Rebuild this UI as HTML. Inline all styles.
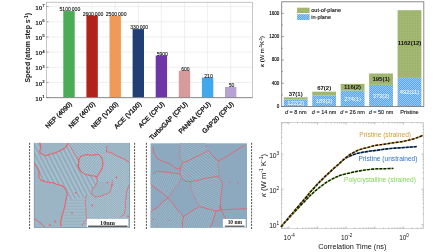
<!DOCTYPE html>
<html><head><meta charset="utf-8"><title>Figure</title>
<style>
html,body{margin:0;padding:0;background:#fff;}
body{width:448px;height:252px;overflow:hidden;}
svg{display:block;font-family:"Liberation Sans",sans-serif;}
.ser{font-family:"Liberation Serif",serif;font-weight:bold;}
</style></head><body>
<svg width="448" height="252" viewBox="0 0 448 252">
<rect width="448" height="252" fill="#fff"/>

<g id="speed">
<line x1="46.5" y1="82.44" x2="252.5" y2="82.44" stroke="#e4e4e4" stroke-width="0.6"/>
<line x1="46.5" y1="67.28" x2="252.5" y2="67.28" stroke="#e4e4e4" stroke-width="0.6"/>
<line x1="46.5" y1="52.12" x2="252.5" y2="52.12" stroke="#e4e4e4" stroke-width="0.6"/>
<line x1="46.5" y1="36.96" x2="252.5" y2="36.96" stroke="#e4e4e4" stroke-width="0.6"/>
<line x1="46.5" y1="21.80" x2="252.5" y2="21.80" stroke="#e4e4e4" stroke-width="0.6"/>
<line x1="46.5" y1="6.64" x2="252.5" y2="6.64" stroke="#e4e4e4" stroke-width="0.6"/>
<line x1="69.00" y1="2.2" x2="69.00" y2="97.7" stroke="#e4e4e4" stroke-width="0.6"/>
<line x1="92.10" y1="2.2" x2="92.10" y2="97.7" stroke="#e4e4e4" stroke-width="0.6"/>
<line x1="115.20" y1="2.2" x2="115.20" y2="97.7" stroke="#e4e4e4" stroke-width="0.6"/>
<line x1="138.30" y1="2.2" x2="138.30" y2="97.7" stroke="#e4e4e4" stroke-width="0.6"/>
<line x1="161.40" y1="2.2" x2="161.40" y2="97.7" stroke="#e4e4e4" stroke-width="0.6"/>
<line x1="184.50" y1="2.2" x2="184.50" y2="97.7" stroke="#e4e4e4" stroke-width="0.6"/>
<line x1="207.60" y1="2.2" x2="207.60" y2="97.7" stroke="#e4e4e4" stroke-width="0.6"/>
<line x1="230.70" y1="2.2" x2="230.70" y2="97.7" stroke="#e4e4e4" stroke-width="0.6"/>
<rect x="63.30" y="11.07" width="11.4" height="86.63" fill="#4aac55"/>
<text x="69.90" y="11.17" font-size="5.1" word-spacing="-0.5" text-anchor="middle" fill="#111" stroke="#111" stroke-width="0.1">5100 000</text>
<rect x="86.40" y="15.51" width="11.4" height="82.19" fill="#b2221b"/>
<text x="93.00" y="15.61" font-size="5.1" word-spacing="-0.5" text-anchor="middle" fill="#111" stroke="#111" stroke-width="0.1">2600 000</text>
<rect x="109.50" y="15.77" width="11.4" height="81.93" fill="#f09a5a"/>
<text x="116.10" y="15.87" font-size="5.1" word-spacing="-0.5" text-anchor="middle" fill="#111" stroke="#111" stroke-width="0.1">2500 000</text>
<rect x="132.60" y="29.10" width="11.4" height="68.60" fill="#1f3f75"/>
<text x="139.20" y="29.20" font-size="5.1" word-spacing="-0.5" text-anchor="middle" fill="#111" stroke="#111" stroke-width="0.1">330 000</text>
<rect x="155.70" y="55.59" width="11.4" height="42.11" fill="#6e35a6"/>
<text x="162.30" y="55.69" font-size="5.1" word-spacing="-0.5" text-anchor="middle" fill="#111" stroke="#111" stroke-width="0.1">5900</text>
<rect x="178.80" y="70.64" width="11.4" height="27.06" fill="#d89a9a"/>
<text x="185.40" y="70.74" font-size="5.1" word-spacing="-0.5" text-anchor="middle" fill="#111" stroke="#111" stroke-width="0.1">600</text>
<rect x="201.90" y="77.56" width="11.4" height="20.14" fill="#42a8ee"/>
<text x="208.50" y="77.66" font-size="5.1" word-spacing="-0.5" text-anchor="middle" fill="#111" stroke="#111" stroke-width="0.1">210</text>
<rect x="225.00" y="87.00" width="11.4" height="10.70" fill="#b7a3d3"/>
<text x="231.60" y="87.10" font-size="5.1" word-spacing="-0.5" text-anchor="middle" fill="#111" stroke="#111" stroke-width="0.1">50</text>
<rect x="46.5" y="2.2" width="206.0" height="95.5" fill="none" stroke="#a0a0a0" stroke-width="0.6"/>
<line x1="46.5" y1="97.7" x2="252.5" y2="97.7" stroke="#777" stroke-width="0.7"/>
<line x1="46.5" y1="97.60" x2="48.5" y2="97.60" stroke="#555" stroke-width="0.5"/>
<text x="44.6" y="100.80" font-size="6.2" font-weight="bold" text-anchor="end" fill="#111">10<tspan font-size="4.4" dy="-2.8">1</tspan></text>
<line x1="46.5" y1="82.44" x2="48.5" y2="82.44" stroke="#555" stroke-width="0.5"/>
<text x="44.6" y="85.64" font-size="6.2" font-weight="bold" text-anchor="end" fill="#111">10<tspan font-size="4.4" dy="-2.8">2</tspan></text>
<line x1="46.5" y1="67.28" x2="48.5" y2="67.28" stroke="#555" stroke-width="0.5"/>
<text x="44.6" y="70.48" font-size="6.2" font-weight="bold" text-anchor="end" fill="#111">10<tspan font-size="4.4" dy="-2.8">3</tspan></text>
<line x1="46.5" y1="52.12" x2="48.5" y2="52.12" stroke="#555" stroke-width="0.5"/>
<text x="44.6" y="55.32" font-size="6.2" font-weight="bold" text-anchor="end" fill="#111">10<tspan font-size="4.4" dy="-2.8">4</tspan></text>
<line x1="46.5" y1="36.96" x2="48.5" y2="36.96" stroke="#555" stroke-width="0.5"/>
<text x="44.6" y="40.16" font-size="6.2" font-weight="bold" text-anchor="end" fill="#111">10<tspan font-size="4.4" dy="-2.8">5</tspan></text>
<line x1="46.5" y1="21.80" x2="48.5" y2="21.80" stroke="#555" stroke-width="0.5"/>
<text x="44.6" y="25.00" font-size="6.2" font-weight="bold" text-anchor="end" fill="#111">10<tspan font-size="4.4" dy="-2.8">6</tspan></text>
<line x1="46.5" y1="6.64" x2="48.5" y2="6.64" stroke="#555" stroke-width="0.5"/>
<text x="44.6" y="9.84" font-size="6.2" font-weight="bold" text-anchor="end" fill="#111">10<tspan font-size="4.4" dy="-2.8">7</tspan></text>
<text transform="translate(30.3,47.8) rotate(-90)" font-size="6.9" font-weight="bold" text-anchor="middle" fill="#111">Speed (atom step s<tspan font-size="4.6" dy="-2.6">-1</tspan><tspan dy="2.6">)</tspan></text>
<text transform="translate(72.40,104.4) rotate(-45)" font-size="6.6" text-anchor="end" fill="#111" stroke="#111" stroke-width="0.3">NEP (4090)</text>
<text transform="translate(95.50,104.4) rotate(-45)" font-size="6.6" text-anchor="end" fill="#111" stroke="#111" stroke-width="0.3">NEP (4070)</text>
<text transform="translate(118.60,104.4) rotate(-45)" font-size="6.6" text-anchor="end" fill="#111" stroke="#111" stroke-width="0.3">NEP (V100)</text>
<text transform="translate(141.70,104.4) rotate(-45)" font-size="6.6" text-anchor="end" fill="#111" stroke="#111" stroke-width="0.3">ACE (V100)</text>
<text transform="translate(164.80,104.4) rotate(-45)" font-size="6.6" text-anchor="end" fill="#111" stroke="#111" stroke-width="0.3">ACE (CPU)</text>
<text transform="translate(187.90,104.4) rotate(-45)" font-size="6.6" text-anchor="end" fill="#111" stroke="#111" stroke-width="0.3">TurboGAP (CPU)</text>
<text transform="translate(211.00,104.4) rotate(-45)" font-size="6.6" text-anchor="end" fill="#111" stroke="#111" stroke-width="0.3">PANNA (CPU)</text>
<text transform="translate(234.10,104.4) rotate(-45)" font-size="6.6" text-anchor="end" fill="#111" stroke="#111" stroke-width="0.3">GAP20 (CPU)</text>
</g>
<g id="kappa">
<defs>
<pattern id="pb" width="2" height="2" patternUnits="userSpaceOnUse"><rect width="2" height="2" fill="#5fa3e2"/><rect x="0" y="0" width="1" height="1" fill="#93ccfa"/><rect x="1" y="1" width="1" height="1" fill="#93ccfa"/></pattern>
<pattern id="pg" width="1.6" height="1.6" patternUnits="userSpaceOnUse"><rect width="1.6" height="1.6" fill="#9bb268"/><path d="M0 0H1.6M0 0V1.6" stroke="#b3c588" stroke-width="0.4"/></pattern>
</defs>
<rect x="283.80" y="99.49" width="23.8" height="7.11" fill="url(#pb)"/>
<rect x="283.80" y="97.33" width="23.8" height="2.16" fill="url(#pg)"/>
<text x="295.70" y="105.24" font-size="5.8" text-anchor="middle" fill="#fff">122(2)</text>
<text x="295.70" y="95.73" font-size="6" font-weight="bold" text-anchor="middle" fill="#111">37(1)</text>
<text x="295.70" y="113.6" font-size="5.5" text-anchor="middle" fill="#111" stroke="#111" stroke-width="0.1"><tspan font-style="italic">d</tspan> = 8 nm</text>
<rect x="312.25" y="95.58" width="23.8" height="11.02" fill="url(#pb)"/>
<rect x="312.25" y="91.68" width="23.8" height="3.91" fill="url(#pg)"/>
<text x="324.15" y="103.29" font-size="5.8" text-anchor="middle" fill="#fff">189(2)</text>
<text x="324.15" y="90.08" font-size="6" font-weight="bold" text-anchor="middle" fill="#111">67(2)</text>
<text x="324.15" y="113.6" font-size="5.5" text-anchor="middle" fill="#111" stroke="#111" stroke-width="0.1"><tspan font-style="italic">d</tspan> = 14 nm</text>
<rect x="340.70" y="90.63" width="23.8" height="15.97" fill="url(#pb)"/>
<rect x="340.70" y="83.86" width="23.8" height="6.76" fill="url(#pg)"/>
<text x="352.60" y="100.81" font-size="5.8" text-anchor="middle" fill="#fff">274(1)</text>
<text x="352.60" y="89.34" font-size="6" font-weight="bold" text-anchor="middle" fill="#111">116(2)</text>
<text x="352.60" y="113.6" font-size="5.5" text-anchor="middle" fill="#111" stroke="#111" stroke-width="0.1"><tspan font-style="italic">d</tspan> = 26 nm</text>
<rect x="369.15" y="84.85" width="23.8" height="21.75" fill="url(#pb)"/>
<rect x="369.15" y="73.49" width="23.8" height="11.37" fill="url(#pg)"/>
<text x="381.05" y="97.93" font-size="5.8" text-anchor="middle" fill="#fff">373(2)</text>
<text x="381.05" y="81.27" font-size="6" font-weight="bold" text-anchor="middle" fill="#111">195(1)</text>
<text x="381.05" y="113.6" font-size="5.5" text-anchor="middle" fill="#111" stroke="#111" stroke-width="0.1"><tspan font-style="italic">d</tspan> = 50 nm</text>
<rect x="397.60" y="77.92" width="23.8" height="28.68" fill="url(#pb)"/>
<rect x="397.60" y="10.17" width="23.8" height="67.74" fill="url(#pg)"/>
<text x="409.50" y="94.46" font-size="5.8" text-anchor="middle" fill="#fff">492(11)</text>
<text x="409.50" y="45.20" font-size="6" font-weight="bold" text-anchor="middle" fill="#111">1162(12)</text>
<text x="409.50" y="113.6" font-size="5.5" text-anchor="middle" fill="#111" stroke="#111" stroke-width="0.1">Pristine</text>
<rect x="281.7" y="1.8" width="142.10000000000002" height="104.8" fill="none" stroke="#777" stroke-width="0.85"/>
<line x1="281.7" y1="106.60" x2="283.9" y2="106.60" stroke="#444" stroke-width="0.5"/>
<text x="279.3" y="108.10" font-size="4.5" text-anchor="end" fill="#000" stroke="#000" stroke-width="0.12">0</text>
<line x1="281.7" y1="94.94" x2="282.9" y2="94.94" stroke="#444" stroke-width="0.5"/>
<line x1="281.7" y1="83.28" x2="283.9" y2="83.28" stroke="#444" stroke-width="0.5"/>
<text x="279.3" y="84.78" font-size="4.5" text-anchor="end" fill="#000" stroke="#000" stroke-width="0.12">400</text>
<line x1="281.7" y1="71.62" x2="282.9" y2="71.62" stroke="#444" stroke-width="0.5"/>
<line x1="281.7" y1="59.96" x2="283.9" y2="59.96" stroke="#444" stroke-width="0.5"/>
<text x="279.3" y="61.46" font-size="4.5" text-anchor="end" fill="#000" stroke="#000" stroke-width="0.12">800</text>
<line x1="281.7" y1="48.30" x2="282.9" y2="48.30" stroke="#444" stroke-width="0.5"/>
<line x1="281.7" y1="36.64" x2="283.9" y2="36.64" stroke="#444" stroke-width="0.5"/>
<text x="279.3" y="38.14" font-size="4.5" text-anchor="end" fill="#000" stroke="#000" stroke-width="0.12">1200</text>
<line x1="281.7" y1="24.98" x2="282.9" y2="24.98" stroke="#444" stroke-width="0.5"/>
<line x1="281.7" y1="13.32" x2="283.9" y2="13.32" stroke="#444" stroke-width="0.5"/>
<text x="279.3" y="14.82" font-size="4.5" text-anchor="end" fill="#000" stroke="#000" stroke-width="0.12">1600</text>
<text transform="translate(264.2,51.4) rotate(-90)" font-size="5.9" stroke="#111" stroke-width="0.1" text-anchor="middle" fill="#111"><tspan font-style="italic">κ</tspan> (W m<tspan font-size="3.6" dy="-2">-1</tspan><tspan dy="2">K</tspan><tspan font-size="3.6" dy="-2">-1</tspan><tspan dy="2">)</tspan></text>
<rect x="297.1" y="7.7" width="12.5" height="5.4" fill="url(#pg)"/>
<rect x="297.1" y="14.2" width="12.5" height="5.8" fill="url(#pb)"/>
<text x="311.2" y="12.4" font-size="5.6" fill="#111" stroke="#111" stroke-width="0.12">out-of-plane</text>
<text x="311.2" y="19.4" font-size="5.6" fill="#111" stroke="#111" stroke-width="0.12">in-plane</text>
</g>
<g id="micro">
<defs>
<pattern id="h1" width="4" height="4" patternUnits="userSpaceOnUse" patternTransform="rotate(63)"><rect width="4" height="4" fill="#92acbe"/><rect width="4" height="2" fill="#a8c0cd"/></pattern>
<pattern id="h2" width="1.9" height="1.9" patternUnits="userSpaceOnUse" patternTransform="rotate(-50)"><rect width="1.9" height="1.9" fill="#8eaabd"/><rect width="1.9" height="0.8" fill="#b6ccd8"/></pattern>
<pattern id="h3" width="2.3" height="2" patternUnits="userSpaceOnUse"><rect width="2.3" height="2" fill="#92aebf"/><circle cx="0.6" cy="0.5" r="0.55" fill="#b8cdd8"/><circle cx="1.75" cy="1.5" r="0.55" fill="#b8cdd8"/></pattern>
<pattern id="h6" width="1.5" height="1.5" patternUnits="userSpaceOnUse"><rect width="1.5" height="1.5" fill="#97b1c1"/><rect width="1.5" height="0.6" fill="#aac2ce"/></pattern>
<pattern id="h7" width="2.2" height="2.2" patternUnits="userSpaceOnUse" patternTransform="rotate(40)"><rect width="2.2" height="2.2" fill="#93aebf"/><rect width="2.2" height="0.9" fill="#afc6d2"/></pattern>
<pattern id="r1" width="1.8" height="1.8" patternUnits="userSpaceOnUse" patternTransform="rotate(70)"><rect width="1.8" height="1.8" fill="#86a4ba"/><rect width="1.8" height="0.7" fill="#a3bccb"/></pattern>
<pattern id="r2" width="1.8" height="1.8" patternUnits="userSpaceOnUse" patternTransform="rotate(-25)"><rect width="1.8" height="1.8" fill="#86a4ba"/><rect width="1.8" height="0.7" fill="#a3bccb"/></pattern>
<pattern id="r3" width="2.2" height="2.2" patternUnits="userSpaceOnUse" patternTransform="rotate(40)"><rect width="2.2" height="2.2" fill="#85a3b9"/><rect width="2.2" height="0.9" fill="#a1bbca"/></pattern>
<pattern id="r4" width="1.9" height="1.9" patternUnits="userSpaceOnUse" patternTransform="rotate(-50)"><rect width="1.9" height="1.9" fill="#85a3b9"/><rect width="1.9" height="0.8" fill="#a4bdcc"/></pattern>
</defs>
<line x1="29.6" y1="142.8" x2="29.6" y2="229.4" stroke="#222" stroke-width="0.8" stroke-dasharray="2 1.12"/>
<line x1="134.6" y1="142.8" x2="134.6" y2="229.4" stroke="#222" stroke-width="0.8" stroke-dasharray="2 1.12"/>
<line x1="146.4" y1="142.8" x2="146.4" y2="229.4" stroke="#222" stroke-width="0.8" stroke-dasharray="2 1.12"/>
<line x1="251.6" y1="142.8" x2="251.6" y2="229.4" stroke="#222" stroke-width="0.8" stroke-dasharray="2 1.12"/>
<rect x="34" y="142.9" width="95.7" height="84.9" fill="#9cb5c4"/>
<path d="M34 143H40L40.9 147.1L39.5 151.6L41.8 154.3L46.3 155.7L50.8 153.9L55.2 152.9L60.6 150.4L65 148L67.7 143.9L70.4 146.3L72.7 150.7L74.9 155.2L77.5 157.9L78.8 161.4L77.5 165.9L80.2 170.4L85.1 174.3L91.4 175.7L96.8 176.6L97.6 181L95.9 184.8L92.3 189.3L91.4 193.7L86 196.4L65.6 200.9L67.4 194.6L65.9 189.3L62.4 185.7L57 184.4L49.9 183.9L46.3 182L40.9 180.2L38.8 176.6L39.1 172.1L37.4 167.7L34 164Z" fill="url(#h1)"/>
<path d="M65.6 200.9L86 196.4L85.1 202.6L86 207.1L86 213.4L86.9 218.7L82.5 227.8H61.5L60.6 223.2L61.5 217.8L63.3 211.6L65 206.2Z" fill="url(#h6)"/>
<path d="M78.9 159.6L80.7 156.4L86 154.6L92.3 155.2L98.5 154.3L102.1 157.9L103 163.2L102.1 168.6L99.4 173L96.8 176.6L91.4 175.7L85.1 174.3L80.7 171.3L78.5 166.8Z" fill="url(#h2)"/>
<path d="M106.6 143V152.5L111 152.1L115.5 155.5L120.1 157.4L124.7 159.2L129.7 162.5V227.8H82.5L86.9 218.7L86 213.4L86 207.1L85.1 202.6L86 196.4L91.4 193.7L95 196.9L100.3 196.4L104.8 194.6L109.3 192.8L111 189.3L111.9 184.8L107.5 182L97.6 181L96.8 176.6L99.4 173L102.1 168.6L103 163.2L102.1 157.9L98.5 154.3L106.6 152.5Z" fill="url(#h3)"/>
<path d="M67.7 143.9L70.4 146.3L72.7 150.7L74.9 155.2L77.5 157.9L78.9 159.6L80.7 156.4L86 154.6L92.3 155.2L98.5 154.3L106.6 152.5V143Z" fill="url(#h7)"/>
<path d="M40 143.2L40.9 147.1L39.5 151.6L41.8 154.3L46.3 155.7L50.8 153.9L55.2 152.9L60.6 150.4L65 148L67.7 143.9" fill="none" stroke="#f4585e" stroke-width="0.7" stroke-linecap="round" stroke-linejoin="round" stroke-opacity="0.5"/>
<path d="M40 143.2L40.9 147.1L39.5 151.6L41.8 154.3L46.3 155.7L50.8 153.9L55.2 152.9L60.6 150.4L65 148L67.7 143.9" fill="none" stroke="#f4585e" stroke-width="1.3" stroke-linecap="round" stroke-linejoin="round" stroke-dasharray="0.01 1.55"/>
<path d="M67.7 143.9L70.4 146.3L72.7 150.7L74.9 155.2L77.5 157.9L78.8 161.4L77.5 165.9L80.2 170.4" fill="none" stroke="#f4585e" stroke-width="0.7" stroke-linecap="round" stroke-linejoin="round" stroke-opacity="0.3"/>
<path d="M67.7 143.9L70.4 146.3L72.7 150.7L74.9 155.2L77.5 157.9L78.8 161.4L77.5 165.9L80.2 170.4" fill="none" stroke="#f4585e" stroke-width="1.0" stroke-linecap="round" stroke-linejoin="round" stroke-dasharray="0.01 1.5"/>
<path d="M34.7 164.1L37.4 167.7L39.1 172.1L38.8 176.6L40.9 180.2L46.3 182L53.4 182.9L57 184.4L62.4 185.7L65.9 189.3L67.4 194.6L65.6 200.9L65 206.2L63.3 211.6L61.5 217.8L60.6 223.2L61.5 227" fill="none" stroke="#f4585e" stroke-width="0.7" stroke-linecap="round" stroke-linejoin="round" stroke-opacity="0.5"/>
<path d="M34.7 164.1L37.4 167.7L39.1 172.1L38.8 176.6L40.9 180.2L46.3 182L53.4 182.9L57 184.4L62.4 185.7L65.9 189.3L67.4 194.6L65.6 200.9L65 206.2L63.3 211.6L61.5 217.8L60.6 223.2L61.5 227" fill="none" stroke="#f4585e" stroke-width="1.3" stroke-linecap="round" stroke-linejoin="round" stroke-dasharray="0.01 1.55"/>
<path d="M78.9 159.6L80.7 156.4L86 154.6L92.3 155.2L98.5 154.3L102.1 157.9L103 163.2L102.1 168.6L99.4 173L96.8 176.6L91.4 175.7L85.1 174.3L80.7 171.3L78.5 166.8Z" fill="none" stroke="#f4585e" stroke-width="0.7" stroke-linecap="round" stroke-linejoin="round" stroke-opacity="0.5"/>
<path d="M78.9 159.6L80.7 156.4L86 154.6L92.3 155.2L98.5 154.3L102.1 157.9L103 163.2L102.1 168.6L99.4 173L96.8 176.6L91.4 175.7L85.1 174.3L80.7 171.3L78.5 166.8Z" fill="none" stroke="#f4585e" stroke-width="1.3" stroke-linecap="round" stroke-linejoin="round" stroke-dasharray="0.01 1.55"/>
<path d="M106.9 146.4L106.4 151.9L111 152.4L115.5 155.5L120.1 157.4L124.7 159.2L128.9 162.3" fill="none" stroke="#f4585e" stroke-width="0.7" stroke-linecap="round" stroke-linejoin="round" stroke-opacity="0.4"/>
<path d="M106.9 146.4L106.4 151.9L111 152.4L115.5 155.5L120.1 157.4L124.7 159.2L128.9 162.3" fill="none" stroke="#f4585e" stroke-width="1.05" stroke-linecap="round" stroke-linejoin="round" stroke-dasharray="0.01 1.4"/>
<path d="M96.8 176.6L97.6 181L95.9 184.8L92.3 189.3L91.4 193.7L95 196.9L100.3 196.4L104.8 194.6L109.3 192.8L111 189.3L111.9 184.8L112.5 180" fill="none" stroke="#f4585e" stroke-width="0.7" stroke-linecap="round" stroke-linejoin="round" stroke-opacity="0.25"/>
<path d="M96.8 176.6L97.6 181L95.9 184.8L92.3 189.3L91.4 193.7L95 196.9L100.3 196.4L104.8 194.6L109.3 192.8L111 189.3L111.9 184.8L112.5 180" fill="none" stroke="#f4585e" stroke-width="1.1" stroke-linecap="round" stroke-linejoin="round" stroke-dasharray="0.01 1.7"/>
<path d="M86 196.4L85.1 202.6L86 207.1L86 213.4L86.9 218.7L82.5 225" fill="none" stroke="#f4585e" stroke-width="0.7" stroke-linecap="round" stroke-linejoin="round" stroke-opacity="0.2"/>
<path d="M86 196.4L85.1 202.6L86 207.1L86 213.4L86.9 218.7L82.5 225" fill="none" stroke="#f4585e" stroke-width="1.1" stroke-linecap="round" stroke-linejoin="round" stroke-dasharray="0.01 2.0"/>
<path d="M128.6 186L126.6 192L126 198.2L125.3 202.6L125.6 207.1L125 210L124.4 213.8L122.5 215.6L120 217.5" fill="none" stroke="#f4585e" stroke-width="0.7" stroke-linecap="round" stroke-linejoin="round" stroke-opacity="0.3"/>
<path d="M128.6 186L126.6 192L126 198.2L125.3 202.6L125.6 207.1L125 210L124.4 213.8L122.5 215.6L120 217.5" fill="none" stroke="#f4585e" stroke-width="1.1" stroke-linecap="round" stroke-linejoin="round" stroke-dasharray="0.01 1.7"/>
<path d="M34.7 218.7L38.3 221.4L41.8 224L44.5 227" fill="none" stroke="#f4585e" stroke-width="0.7" stroke-linecap="round" stroke-linejoin="round" stroke-opacity="0.5"/>
<path d="M34.7 218.7L38.3 221.4L41.8 224L44.5 227" fill="none" stroke="#f4585e" stroke-width="1.0" stroke-linecap="round" stroke-linejoin="round" stroke-dasharray="0.01 1.4"/>
<circle cx="107.5" cy="182.5" r="0.85" fill="#f4585e"/>
<circle cx="116.4" cy="177.4" r="0.85" fill="#f4585e"/>
<circle cx="49.9" cy="225" r="0.85" fill="#f4585e"/>
<circle cx="55.2" cy="221.4" r="0.85" fill="#f4585e"/>
<circle cx="75.8" cy="192.8" r="0.85" fill="#f4585e"/>
<circle cx="92.3" cy="205.3" r="0.85" fill="#f4585e"/>
<circle cx="72" cy="213" r="0.85" fill="#f4585e"/>
<circle cx="128.1" cy="216.3" r="0.85" fill="#f4585e"/>
<circle cx="112" cy="185" r="0.85" fill="#f4585e"/>
<rect x="86.9" y="218.9" width="41.3" height="8.6" fill="#fff"/>
<line x1="88.1" y1="226.2" x2="127.5" y2="226.2" stroke="#111" stroke-width="1"/>
<text class="ser" x="107.5" y="224.6" font-size="6.2" text-anchor="middle" fill="#111">10nm</text>
<path d="M129.5 142.9V227.6H34.2V142.9" fill="none" stroke="#5d7890" stroke-opacity="0.8" stroke-width="0.5"/>
<rect x="150.6" y="143.3" width="96.4" height="84.5" fill="#8ca9bf"/>
<path d="M150.6 173.8L153.3 173.8L156.9 171.4L164.3 171.9L169.7 172.5L175.2 173.4L179.8 173.8L181.6 177.4L178.8 183.8L174.3 189.3L170.6 193.9L167.9 198.1L162.4 192.9L156.9 189.3L151.5 184.7L150.6 184Z" fill="url(#r1)"/>
<path d="M179.8 143.3V157.3L182.5 162.8L188 161L193.4 158.2L198.9 155.5L207.9 150.6L206 143.3Z" fill="url(#r2)"/>
<path d="M181.6 177.4L185.2 181.1L190.7 181.6L198.9 180.1L203.3 178.7L210.6 177.4L217.9 176.5L218.8 170.1L218.3 161L213.3 156.4L207.9 150.6L198.9 155.5L193.4 158.2L188 161L182.5 162.8L180.7 167.4L179.8 173.8Z" fill="url(#r3)"/>
<path d="M190.7 188.4L193.4 193.9L195.3 199.3L198 203.9L199.8 206.6L208.8 209L215.2 210.3L219.7 209.4L220.6 200.2L221.5 191.1L222.5 183.8L220.6 179.2L217.9 176.5L210.6 177.4L203.3 178.7L198.9 180.1L190.7 181.6Z" fill="url(#r2)"/>
<path d="M150.6 211.5L154.2 209.4L158.8 206.6L162.4 202.1L167.9 198.1L172.5 203L176.1 208.5L180.7 213L183.4 216.7L182.5 222.1V227.8H150.6Z" fill="url(#r4)"/>
<path d="M183.4 216.7L188.9 213L194.4 209.4L199.8 206.6L208.8 209L215.2 210.3L214.3 216.7L211.5 222.1L209.7 227.8H182.5V222.1Z" fill="url(#r1)"/>
<path d="M152.9 147.3L154.2 153.7L157.9 159.2L164.3 161.9L169.7 163.7L174.3 167.4L177.9 169.2L180.7 167.4L182.5 162.8L188 161L193.4 158.2L198.9 155.5L207.9 150.6L213.3 156.4L218.3 161L225.2 157.3L232.5 152.8L239.8 148.2L245.3 145.1" fill="none" stroke="#f4585e" stroke-width="0.75" stroke-linecap="round" stroke-linejoin="round"/>
<path d="M179.8 145.5V157.3L182.5 162.8" fill="none" stroke="#f4585e" stroke-width="0.9" stroke-linecap="round" stroke-linejoin="round" stroke-dasharray="0.1 2.0"/>
<path d="M180.7 167.4L179.8 173.8" fill="none" stroke="#f4585e" stroke-width="0.75" stroke-linecap="round" stroke-linejoin="round"/>
<path d="M153.3 173.8L156.9 171.4L164.3 171.9L169.7 172.5L175.2 173.4L179.8 173.8L181.6 177.4L185.2 181.1L190.7 181.6L198.9 180.1L203.3 178.7L210.6 177.4L217.9 176.5L220.6 179.2L222.5 183.8L221.5 191.1L220.6 200.2L219.7 209.4" fill="none" stroke="#f4585e" stroke-width="0.75" stroke-linecap="round" stroke-linejoin="round"/>
<path d="M218.3 161L217.9 165.5L218.8 170.1L218.8 175.6" fill="none" stroke="#f4585e" stroke-width="0.9" stroke-linecap="round" stroke-linejoin="round" stroke-dasharray="0.1 2.0"/>
<path d="M151.5 184.7L156.9 189.3L162.4 192.9L167.9 198.1L172.5 203L176.1 208.5L180.7 213L183.4 216.7L182.5 222.1L182.5 227.5" fill="none" stroke="#f4585e" stroke-width="0.75" stroke-linecap="round" stroke-linejoin="round"/>
<path d="M167.9 198.1L170.6 193.9L174.3 189.3L178.8 183.8L181.6 177.4" fill="none" stroke="#f4585e" stroke-width="0.9" stroke-linecap="round" stroke-linejoin="round" stroke-dasharray="0.1 1.8"/>
<path d="M167.9 198.1L162.4 202.1L158.8 206.6L154.2 209.4L151.5 211.2" fill="none" stroke="#f4585e" stroke-width="0.75" stroke-linecap="round" stroke-linejoin="round"/>
<path d="M183.4 216.7L188.9 213L194.4 209.4L199.8 206.6L208.8 209L216 211L221.3 209.8L233.8 209.2L246.7 208.6" fill="none" stroke="#f4585e" stroke-width="0.75" stroke-linecap="round" stroke-linejoin="round"/>
<path d="M190.7 181.6L190.7 188.4L193.4 193.9L195.3 199.3L198 203.9L199.8 206.6" fill="none" stroke="#f4585e" stroke-width="0.9" stroke-linecap="round" stroke-linejoin="round" stroke-dasharray="0.1 2.0"/>
<path d="M216 211L214.3 216.7L212.4 222.9L210.3 227.5" fill="none" stroke="#f4585e" stroke-width="0.75" stroke-linecap="round" stroke-linejoin="round"/>
<path d="M220.6 206L221.3 209.8L223.1 213.9L225.5 218.1" fill="none" stroke="#f4585e" stroke-width="0.75" stroke-linecap="round" stroke-linejoin="round"/>
<circle cx="206" cy="146.4" r="0.6" fill="#f4585e"/>
<circle cx="229.8" cy="182.3" r="0.6" fill="#f4585e"/>
<circle cx="238" cy="182.9" r="0.6" fill="#f4585e"/>
<circle cx="153.3" cy="219.4" r="0.6" fill="#f4585e"/>
<circle cx="168.8" cy="220.3" r="0.6" fill="#f4585e"/>
<circle cx="157" cy="226" r="0.6" fill="#f4585e"/>
<rect x="222.9" y="219" width="22.8" height="8.4" fill="#fff"/>
<text class="ser" x="234.8" y="224.4" font-size="5.4" text-anchor="middle" fill="#111">10 nm</text>
<line x1="224.9" y1="226.2" x2="244.5" y2="226.2" stroke="#111" stroke-width="0.9"/>
</g>
<g id="corr">
<rect x="281.4" y="122.5" width="142.0" height="105.9" fill="none" stroke="#aaa" stroke-width="0.5"/>
<line x1="282.43" y1="228.4" x2="282.43" y2="227.4" stroke="#666" stroke-width="0.4"/>
<line x1="282.43" y1="122.5" x2="282.43" y2="123.5" stroke="#666" stroke-width="0.4"/>
<line x1="284.35" y1="228.4" x2="284.35" y2="227.4" stroke="#666" stroke-width="0.4"/>
<line x1="284.35" y1="122.5" x2="284.35" y2="123.5" stroke="#666" stroke-width="0.4"/>
<line x1="286.02" y1="228.4" x2="286.02" y2="227.4" stroke="#666" stroke-width="0.4"/>
<line x1="286.02" y1="122.5" x2="286.02" y2="123.5" stroke="#666" stroke-width="0.4"/>
<line x1="287.49" y1="228.4" x2="287.49" y2="227.4" stroke="#666" stroke-width="0.4"/>
<line x1="287.49" y1="122.5" x2="287.49" y2="123.5" stroke="#666" stroke-width="0.4"/>
<line x1="288.80" y1="228.4" x2="288.80" y2="226.4" stroke="#666" stroke-width="0.4"/>
<line x1="288.80" y1="122.5" x2="288.80" y2="124.5" stroke="#666" stroke-width="0.4"/>
<line x1="297.44" y1="228.4" x2="297.44" y2="227.4" stroke="#666" stroke-width="0.4"/>
<line x1="297.44" y1="122.5" x2="297.44" y2="123.5" stroke="#666" stroke-width="0.4"/>
<line x1="302.49" y1="228.4" x2="302.49" y2="227.4" stroke="#666" stroke-width="0.4"/>
<line x1="302.49" y1="122.5" x2="302.49" y2="123.5" stroke="#666" stroke-width="0.4"/>
<line x1="306.08" y1="228.4" x2="306.08" y2="227.4" stroke="#666" stroke-width="0.4"/>
<line x1="306.08" y1="122.5" x2="306.08" y2="123.5" stroke="#666" stroke-width="0.4"/>
<line x1="308.86" y1="228.4" x2="308.86" y2="227.4" stroke="#666" stroke-width="0.4"/>
<line x1="308.86" y1="122.5" x2="308.86" y2="123.5" stroke="#666" stroke-width="0.4"/>
<line x1="311.13" y1="228.4" x2="311.13" y2="227.4" stroke="#666" stroke-width="0.4"/>
<line x1="311.13" y1="122.5" x2="311.13" y2="123.5" stroke="#666" stroke-width="0.4"/>
<line x1="313.05" y1="228.4" x2="313.05" y2="227.4" stroke="#666" stroke-width="0.4"/>
<line x1="313.05" y1="122.5" x2="313.05" y2="123.5" stroke="#666" stroke-width="0.4"/>
<line x1="314.72" y1="228.4" x2="314.72" y2="227.4" stroke="#666" stroke-width="0.4"/>
<line x1="314.72" y1="122.5" x2="314.72" y2="123.5" stroke="#666" stroke-width="0.4"/>
<line x1="316.19" y1="228.4" x2="316.19" y2="227.4" stroke="#666" stroke-width="0.4"/>
<line x1="316.19" y1="122.5" x2="316.19" y2="123.5" stroke="#666" stroke-width="0.4"/>
<line x1="317.50" y1="228.4" x2="317.50" y2="226.4" stroke="#666" stroke-width="0.4"/>
<line x1="317.50" y1="122.5" x2="317.50" y2="124.5" stroke="#666" stroke-width="0.4"/>
<line x1="326.14" y1="228.4" x2="326.14" y2="227.4" stroke="#666" stroke-width="0.4"/>
<line x1="326.14" y1="122.5" x2="326.14" y2="123.5" stroke="#666" stroke-width="0.4"/>
<line x1="331.19" y1="228.4" x2="331.19" y2="227.4" stroke="#666" stroke-width="0.4"/>
<line x1="331.19" y1="122.5" x2="331.19" y2="123.5" stroke="#666" stroke-width="0.4"/>
<line x1="334.78" y1="228.4" x2="334.78" y2="227.4" stroke="#666" stroke-width="0.4"/>
<line x1="334.78" y1="122.5" x2="334.78" y2="123.5" stroke="#666" stroke-width="0.4"/>
<line x1="337.56" y1="228.4" x2="337.56" y2="227.4" stroke="#666" stroke-width="0.4"/>
<line x1="337.56" y1="122.5" x2="337.56" y2="123.5" stroke="#666" stroke-width="0.4"/>
<line x1="339.83" y1="228.4" x2="339.83" y2="227.4" stroke="#666" stroke-width="0.4"/>
<line x1="339.83" y1="122.5" x2="339.83" y2="123.5" stroke="#666" stroke-width="0.4"/>
<line x1="341.75" y1="228.4" x2="341.75" y2="227.4" stroke="#666" stroke-width="0.4"/>
<line x1="341.75" y1="122.5" x2="341.75" y2="123.5" stroke="#666" stroke-width="0.4"/>
<line x1="343.42" y1="228.4" x2="343.42" y2="227.4" stroke="#666" stroke-width="0.4"/>
<line x1="343.42" y1="122.5" x2="343.42" y2="123.5" stroke="#666" stroke-width="0.4"/>
<line x1="344.89" y1="228.4" x2="344.89" y2="227.4" stroke="#666" stroke-width="0.4"/>
<line x1="344.89" y1="122.5" x2="344.89" y2="123.5" stroke="#666" stroke-width="0.4"/>
<line x1="346.20" y1="228.4" x2="346.20" y2="226.4" stroke="#666" stroke-width="0.4"/>
<line x1="346.20" y1="122.5" x2="346.20" y2="124.5" stroke="#666" stroke-width="0.4"/>
<line x1="354.84" y1="228.4" x2="354.84" y2="227.4" stroke="#666" stroke-width="0.4"/>
<line x1="354.84" y1="122.5" x2="354.84" y2="123.5" stroke="#666" stroke-width="0.4"/>
<line x1="359.89" y1="228.4" x2="359.89" y2="227.4" stroke="#666" stroke-width="0.4"/>
<line x1="359.89" y1="122.5" x2="359.89" y2="123.5" stroke="#666" stroke-width="0.4"/>
<line x1="363.48" y1="228.4" x2="363.48" y2="227.4" stroke="#666" stroke-width="0.4"/>
<line x1="363.48" y1="122.5" x2="363.48" y2="123.5" stroke="#666" stroke-width="0.4"/>
<line x1="366.26" y1="228.4" x2="366.26" y2="227.4" stroke="#666" stroke-width="0.4"/>
<line x1="366.26" y1="122.5" x2="366.26" y2="123.5" stroke="#666" stroke-width="0.4"/>
<line x1="368.53" y1="228.4" x2="368.53" y2="227.4" stroke="#666" stroke-width="0.4"/>
<line x1="368.53" y1="122.5" x2="368.53" y2="123.5" stroke="#666" stroke-width="0.4"/>
<line x1="370.45" y1="228.4" x2="370.45" y2="227.4" stroke="#666" stroke-width="0.4"/>
<line x1="370.45" y1="122.5" x2="370.45" y2="123.5" stroke="#666" stroke-width="0.4"/>
<line x1="372.12" y1="228.4" x2="372.12" y2="227.4" stroke="#666" stroke-width="0.4"/>
<line x1="372.12" y1="122.5" x2="372.12" y2="123.5" stroke="#666" stroke-width="0.4"/>
<line x1="373.59" y1="228.4" x2="373.59" y2="227.4" stroke="#666" stroke-width="0.4"/>
<line x1="373.59" y1="122.5" x2="373.59" y2="123.5" stroke="#666" stroke-width="0.4"/>
<line x1="374.90" y1="228.4" x2="374.90" y2="226.4" stroke="#666" stroke-width="0.4"/>
<line x1="374.90" y1="122.5" x2="374.90" y2="124.5" stroke="#666" stroke-width="0.4"/>
<line x1="383.54" y1="228.4" x2="383.54" y2="227.4" stroke="#666" stroke-width="0.4"/>
<line x1="383.54" y1="122.5" x2="383.54" y2="123.5" stroke="#666" stroke-width="0.4"/>
<line x1="388.59" y1="228.4" x2="388.59" y2="227.4" stroke="#666" stroke-width="0.4"/>
<line x1="388.59" y1="122.5" x2="388.59" y2="123.5" stroke="#666" stroke-width="0.4"/>
<line x1="392.18" y1="228.4" x2="392.18" y2="227.4" stroke="#666" stroke-width="0.4"/>
<line x1="392.18" y1="122.5" x2="392.18" y2="123.5" stroke="#666" stroke-width="0.4"/>
<line x1="394.96" y1="228.4" x2="394.96" y2="227.4" stroke="#666" stroke-width="0.4"/>
<line x1="394.96" y1="122.5" x2="394.96" y2="123.5" stroke="#666" stroke-width="0.4"/>
<line x1="397.23" y1="228.4" x2="397.23" y2="227.4" stroke="#666" stroke-width="0.4"/>
<line x1="397.23" y1="122.5" x2="397.23" y2="123.5" stroke="#666" stroke-width="0.4"/>
<line x1="399.15" y1="228.4" x2="399.15" y2="227.4" stroke="#666" stroke-width="0.4"/>
<line x1="399.15" y1="122.5" x2="399.15" y2="123.5" stroke="#666" stroke-width="0.4"/>
<line x1="400.82" y1="228.4" x2="400.82" y2="227.4" stroke="#666" stroke-width="0.4"/>
<line x1="400.82" y1="122.5" x2="400.82" y2="123.5" stroke="#666" stroke-width="0.4"/>
<line x1="402.29" y1="228.4" x2="402.29" y2="227.4" stroke="#666" stroke-width="0.4"/>
<line x1="402.29" y1="122.5" x2="402.29" y2="123.5" stroke="#666" stroke-width="0.4"/>
<line x1="403.60" y1="228.4" x2="403.60" y2="226.4" stroke="#666" stroke-width="0.4"/>
<line x1="403.60" y1="122.5" x2="403.60" y2="124.5" stroke="#666" stroke-width="0.4"/>
<line x1="412.24" y1="228.4" x2="412.24" y2="227.4" stroke="#666" stroke-width="0.4"/>
<line x1="412.24" y1="122.5" x2="412.24" y2="123.5" stroke="#666" stroke-width="0.4"/>
<line x1="417.29" y1="228.4" x2="417.29" y2="227.4" stroke="#666" stroke-width="0.4"/>
<line x1="417.29" y1="122.5" x2="417.29" y2="123.5" stroke="#666" stroke-width="0.4"/>
<line x1="420.88" y1="228.4" x2="420.88" y2="227.4" stroke="#666" stroke-width="0.4"/>
<line x1="420.88" y1="122.5" x2="420.88" y2="123.5" stroke="#666" stroke-width="0.4"/>
<line x1="281.4" y1="228.02" x2="282.4" y2="228.02" stroke="#666" stroke-width="0.4"/>
<line x1="423.4" y1="228.02" x2="422.4" y2="228.02" stroke="#666" stroke-width="0.4"/>
<line x1="281.4" y1="226.22" x2="282.4" y2="226.22" stroke="#666" stroke-width="0.4"/>
<line x1="423.4" y1="226.22" x2="422.4" y2="226.22" stroke="#666" stroke-width="0.4"/>
<line x1="281.4" y1="224.60" x2="283.4" y2="224.60" stroke="#666" stroke-width="0.4"/>
<line x1="423.4" y1="224.60" x2="421.4" y2="224.60" stroke="#666" stroke-width="0.4"/>
<line x1="281.4" y1="213.97" x2="282.4" y2="213.97" stroke="#666" stroke-width="0.4"/>
<line x1="423.4" y1="213.97" x2="422.4" y2="213.97" stroke="#666" stroke-width="0.4"/>
<line x1="281.4" y1="207.76" x2="282.4" y2="207.76" stroke="#666" stroke-width="0.4"/>
<line x1="423.4" y1="207.76" x2="422.4" y2="207.76" stroke="#666" stroke-width="0.4"/>
<line x1="281.4" y1="203.35" x2="282.4" y2="203.35" stroke="#666" stroke-width="0.4"/>
<line x1="423.4" y1="203.35" x2="422.4" y2="203.35" stroke="#666" stroke-width="0.4"/>
<line x1="281.4" y1="199.93" x2="282.4" y2="199.93" stroke="#666" stroke-width="0.4"/>
<line x1="423.4" y1="199.93" x2="422.4" y2="199.93" stroke="#666" stroke-width="0.4"/>
<line x1="281.4" y1="197.13" x2="282.4" y2="197.13" stroke="#666" stroke-width="0.4"/>
<line x1="423.4" y1="197.13" x2="422.4" y2="197.13" stroke="#666" stroke-width="0.4"/>
<line x1="281.4" y1="194.77" x2="282.4" y2="194.77" stroke="#666" stroke-width="0.4"/>
<line x1="423.4" y1="194.77" x2="422.4" y2="194.77" stroke="#666" stroke-width="0.4"/>
<line x1="281.4" y1="192.72" x2="282.4" y2="192.72" stroke="#666" stroke-width="0.4"/>
<line x1="423.4" y1="192.72" x2="422.4" y2="192.72" stroke="#666" stroke-width="0.4"/>
<line x1="281.4" y1="190.92" x2="282.4" y2="190.92" stroke="#666" stroke-width="0.4"/>
<line x1="423.4" y1="190.92" x2="422.4" y2="190.92" stroke="#666" stroke-width="0.4"/>
<line x1="281.4" y1="189.30" x2="283.4" y2="189.30" stroke="#666" stroke-width="0.4"/>
<line x1="423.4" y1="189.30" x2="421.4" y2="189.30" stroke="#666" stroke-width="0.4"/>
<line x1="281.4" y1="178.67" x2="282.4" y2="178.67" stroke="#666" stroke-width="0.4"/>
<line x1="423.4" y1="178.67" x2="422.4" y2="178.67" stroke="#666" stroke-width="0.4"/>
<line x1="281.4" y1="172.46" x2="282.4" y2="172.46" stroke="#666" stroke-width="0.4"/>
<line x1="423.4" y1="172.46" x2="422.4" y2="172.46" stroke="#666" stroke-width="0.4"/>
<line x1="281.4" y1="168.05" x2="282.4" y2="168.05" stroke="#666" stroke-width="0.4"/>
<line x1="423.4" y1="168.05" x2="422.4" y2="168.05" stroke="#666" stroke-width="0.4"/>
<line x1="281.4" y1="164.63" x2="282.4" y2="164.63" stroke="#666" stroke-width="0.4"/>
<line x1="423.4" y1="164.63" x2="422.4" y2="164.63" stroke="#666" stroke-width="0.4"/>
<line x1="281.4" y1="161.83" x2="282.4" y2="161.83" stroke="#666" stroke-width="0.4"/>
<line x1="423.4" y1="161.83" x2="422.4" y2="161.83" stroke="#666" stroke-width="0.4"/>
<line x1="281.4" y1="159.47" x2="282.4" y2="159.47" stroke="#666" stroke-width="0.4"/>
<line x1="423.4" y1="159.47" x2="422.4" y2="159.47" stroke="#666" stroke-width="0.4"/>
<line x1="281.4" y1="157.42" x2="282.4" y2="157.42" stroke="#666" stroke-width="0.4"/>
<line x1="423.4" y1="157.42" x2="422.4" y2="157.42" stroke="#666" stroke-width="0.4"/>
<line x1="281.4" y1="155.62" x2="282.4" y2="155.62" stroke="#666" stroke-width="0.4"/>
<line x1="423.4" y1="155.62" x2="422.4" y2="155.62" stroke="#666" stroke-width="0.4"/>
<line x1="281.4" y1="154.00" x2="283.4" y2="154.00" stroke="#666" stroke-width="0.4"/>
<line x1="423.4" y1="154.00" x2="421.4" y2="154.00" stroke="#666" stroke-width="0.4"/>
<line x1="281.4" y1="143.37" x2="282.4" y2="143.37" stroke="#666" stroke-width="0.4"/>
<line x1="423.4" y1="143.37" x2="422.4" y2="143.37" stroke="#666" stroke-width="0.4"/>
<line x1="281.4" y1="137.16" x2="282.4" y2="137.16" stroke="#666" stroke-width="0.4"/>
<line x1="423.4" y1="137.16" x2="422.4" y2="137.16" stroke="#666" stroke-width="0.4"/>
<line x1="281.4" y1="132.75" x2="282.4" y2="132.75" stroke="#666" stroke-width="0.4"/>
<line x1="423.4" y1="132.75" x2="422.4" y2="132.75" stroke="#666" stroke-width="0.4"/>
<line x1="281.4" y1="129.33" x2="282.4" y2="129.33" stroke="#666" stroke-width="0.4"/>
<line x1="423.4" y1="129.33" x2="422.4" y2="129.33" stroke="#666" stroke-width="0.4"/>
<line x1="281.4" y1="126.53" x2="282.4" y2="126.53" stroke="#666" stroke-width="0.4"/>
<line x1="423.4" y1="126.53" x2="422.4" y2="126.53" stroke="#666" stroke-width="0.4"/>
<line x1="281.4" y1="124.17" x2="282.4" y2="124.17" stroke="#666" stroke-width="0.4"/>
<line x1="423.4" y1="124.17" x2="422.4" y2="124.17" stroke="#666" stroke-width="0.4"/>
<text x="279.2" y="228.10" font-size="6.7" text-anchor="end" fill="#111">10<tspan font-size="4.7" dy="-2.9">1</tspan></text>
<text x="279.2" y="192.80" font-size="6.7" text-anchor="end" fill="#111">10<tspan font-size="4.7" dy="-2.9">2</tspan></text>
<text x="279.2" y="157.50" font-size="6.7" text-anchor="end" fill="#111">10<tspan font-size="4.7" dy="-2.9">3</tspan></text>
<text x="289.20" y="239.7" font-size="6.5" text-anchor="middle" fill="#111">10<tspan font-size="4.5" dy="-2.8">-4</tspan></text>
<text x="346.60" y="239.7" font-size="6.5" text-anchor="middle" fill="#111">10<tspan font-size="4.5" dy="-2.8">-2</tspan></text>
<text x="404.00" y="239.7" font-size="6.5" text-anchor="middle" fill="#111">10<tspan font-size="4.5" dy="-2.8">0</tspan></text>
<text x="352.3" y="249.3" font-size="7.3" text-anchor="middle" fill="#111">Correlation Time (ns)</text>
<text transform="translate(266.2,175.5) rotate(-90)" font-size="7.7" text-anchor="middle" fill="#111"><tspan font-style="italic">κ</tspan> (W m<tspan font-size="5" dy="-2.8">-1</tspan><tspan dy="2.8"> K</tspan><tspan font-size="5" dy="-2.8">-1</tspan><tspan dy="2.8">)</tspan></text>
<path d="M281.1 226.7C283.2 224.3 289.7 217.2 294.0 212.6C298.3 208.0 303.5 202.4 306.9 199.0C310.2 195.6 311.7 194.1 314.1 191.9C316.5 189.8 318.8 187.9 321.2 186.1C323.6 184.3 325.9 182.5 328.3 181.1C330.7 179.7 333.2 178.6 335.3 177.6C337.4 176.6 338.4 176.0 340.8 175.2C343.2 174.4 347.0 173.6 350.0 172.9C353.0 172.2 355.9 171.6 358.6 171.1C361.3 170.6 363.2 170.2 366.0 169.8C368.8 169.4 372.1 169.1 375.1 168.9C378.2 168.7 381.2 168.8 384.3 168.7C387.4 168.6 391.9 168.4 393.4 168.4" fill="none" stroke="#8fd34e" stroke-width="1.5" stroke-linejoin="round"/>
<path d="M281.1 226.7C283.2 224.3 289.7 217.2 294.0 212.6C298.3 208.0 303.5 202.4 306.9 199.0C310.2 195.6 311.7 194.1 314.1 191.9C316.5 189.8 318.8 187.9 321.2 186.1C323.6 184.3 325.9 182.5 328.3 181.1C330.7 179.7 333.2 178.6 335.3 177.6C337.4 176.6 338.4 176.0 340.8 175.2C343.2 174.4 347.0 173.6 350.0 172.9C353.0 172.2 355.9 171.6 358.6 171.1C361.3 170.6 363.2 170.2 366.0 169.8C368.8 169.4 372.1 169.1 375.1 168.9C378.2 168.7 381.2 168.8 384.3 168.7C387.4 168.6 391.9 168.4 393.4 168.4" fill="none" stroke="#111" stroke-width="1.4" stroke-dasharray="2.8 1.3" stroke-linejoin="round"/>
<path d="M281.1 226.7C283.1 224.4 288.9 217.5 292.8 212.9C296.7 208.3 301.5 202.6 304.6 199.0C307.7 195.4 308.9 193.7 311.2 191.1C313.5 188.5 315.9 185.8 318.3 183.3C320.7 180.8 323.1 178.4 325.5 176.1C327.9 173.8 330.1 171.8 332.4 169.7C334.7 167.6 337.4 165.2 339.2 163.6C341.0 162.0 341.8 161.1 343.2 160.0C344.6 158.9 346.0 158.0 347.6 157.2C349.2 156.3 351.1 155.6 352.9 154.9C354.7 154.2 356.7 153.6 358.6 153.1C360.5 152.6 362.4 152.4 364.3 152.1C366.2 151.8 368.2 151.4 370.0 151.1C371.8 150.8 372.7 150.8 375.1 150.5C377.5 150.2 381.2 149.6 384.3 149.2C387.4 148.8 390.3 148.6 393.4 148.3C396.5 148.0 400.3 147.8 403.1 147.6C405.9 147.4 408.0 147.3 410.3 147.1C412.6 146.9 415.6 146.7 416.7 146.6" fill="none" stroke="#3b7fd0" stroke-width="1.5" stroke-linejoin="round"/>
<path d="M281.1 226.7C283.1 224.4 288.9 217.5 292.8 212.9C296.7 208.3 301.5 202.6 304.6 199.0C307.7 195.4 308.9 193.7 311.2 191.1C313.5 188.5 315.9 185.8 318.3 183.3C320.7 180.8 323.1 178.4 325.5 176.1C327.9 173.8 330.1 171.8 332.4 169.7C334.7 167.6 337.4 165.2 339.2 163.6C341.0 162.0 341.8 161.1 343.2 160.0C344.6 158.9 346.0 158.0 347.6 157.2C349.2 156.3 351.1 155.6 352.9 154.9C354.7 154.2 356.7 153.6 358.6 153.1C360.5 152.6 362.4 152.4 364.3 152.1C366.2 151.8 368.2 151.4 370.0 151.1C371.8 150.8 372.7 150.8 375.1 150.5C377.5 150.2 381.2 149.6 384.3 149.2C387.4 148.8 390.3 148.6 393.4 148.3C396.5 148.0 400.3 147.8 403.1 147.6C405.9 147.4 408.0 147.3 410.3 147.1C412.6 146.9 415.6 146.7 416.7 146.6" fill="none" stroke="#111" stroke-width="1.4" stroke-dasharray="2.8 1.3" stroke-linejoin="round"/>
<path d="M281.1 226.7C283.1 224.4 288.9 217.5 292.8 212.9C296.7 208.3 301.5 202.6 304.6 199.0C307.7 195.4 308.9 193.7 311.2 191.1C313.5 188.5 315.9 185.8 318.3 183.3C320.7 180.8 323.1 178.4 325.5 176.1C327.9 173.8 330.1 171.8 332.4 169.7C334.7 167.6 337.4 165.2 339.2 163.6C341.0 162.0 341.8 161.2 343.2 160.0C344.6 158.8 346.0 157.4 347.6 156.2C349.2 155.0 351.1 153.9 352.9 152.9C354.7 151.9 356.7 150.8 358.6 150.0C360.5 149.2 362.4 148.8 364.3 148.3C366.2 147.8 368.2 147.4 370.0 146.9C371.8 146.4 372.7 145.9 375.1 145.5C377.5 145.1 381.2 144.6 384.3 144.2C387.4 143.8 390.3 143.3 393.4 142.8C396.5 142.3 400.3 141.9 403.1 141.4C405.9 140.9 407.9 140.3 410.3 139.7C412.7 139.1 415.3 138.4 417.4 137.6C419.5 136.8 422.2 135.5 423.1 135.1" fill="none" stroke="#e0a833" stroke-width="1.5" stroke-linejoin="round"/>
<path d="M281.1 226.7C283.1 224.4 288.9 217.5 292.8 212.9C296.7 208.3 301.5 202.6 304.6 199.0C307.7 195.4 308.9 193.7 311.2 191.1C313.5 188.5 315.9 185.8 318.3 183.3C320.7 180.8 323.1 178.4 325.5 176.1C327.9 173.8 330.1 171.8 332.4 169.7C334.7 167.6 337.4 165.2 339.2 163.6C341.0 162.0 341.8 161.2 343.2 160.0C344.6 158.8 346.0 157.4 347.6 156.2C349.2 155.0 351.1 153.9 352.9 152.9C354.7 151.9 356.7 150.8 358.6 150.0C360.5 149.2 362.4 148.8 364.3 148.3C366.2 147.8 368.2 147.4 370.0 146.9C371.8 146.4 372.7 145.9 375.1 145.5C377.5 145.1 381.2 144.6 384.3 144.2C387.4 143.8 390.3 143.3 393.4 142.8C396.5 142.3 400.3 141.9 403.1 141.4C405.9 140.9 407.9 140.3 410.3 139.7C412.7 139.1 415.3 138.4 417.4 137.6C419.5 136.8 422.2 135.5 423.1 135.1" fill="none" stroke="#111" stroke-width="1.4" stroke-dasharray="2.8 1.3" stroke-linejoin="round"/>
<text x="385.2" y="136.5" font-size="6.6" text-anchor="middle" fill="#c9a040">Pristine (strained)</text>
<text x="388" y="161" font-size="6.6" text-anchor="middle" fill="#2f74c0">Pristine (unstrained)</text>
<text x="380" y="182.4" font-size="6.6" text-anchor="middle" fill="#86d65a">Polycrystalline (strained)</text>
</g>
</svg></body></html>
